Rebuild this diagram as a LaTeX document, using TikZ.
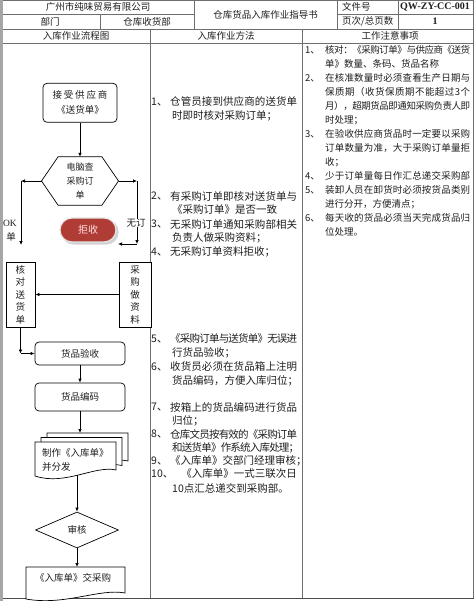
\documentclass[tikz,border=0pt]{standalone}
\usepackage{fontspec}
\setmainfont{Noto Sans CJK SC}
\newfontfamily\serifL{Liberation Serif}
\usetikzlibrary{arrows.meta,shapes.geometric,calc}
\definecolor{tline}{RGB}{110,110,110}
\definecolor{txt}{RGB}{30,30,30}
\definecolor{jured}{RGB}{176,60,54}
\def\spreadchars#1#2\endspread{#1\ifx\relax#2\relax\else\hskip 0pt plus 1fil minus 1fil\spreadchars#2\endspread\fi}
\newcommand\jc[1]{\hbox to 127pt{\spreadchars#1\endspread}}
\newcommand\jt[1]{\hbox to 145pt{\spreadchars#1\endspread}}
\begin{document}
\begin{tikzpicture}[x=1pt,y=-1pt,
  every node/.style={inner sep=0pt, text=txt},
  tl/.style={draw=tline, line width=0.8pt},
  fl/.style={draw=black, line width=0.7pt},
  arr/.style={draw=black, line width=0.7pt, -{Latex[length=4pt,width=3.5pt]}},
  hd/.style={font=\fontsize{9.5}{11}\selectfont},
  ctwo/.style={font=\fontsize{10.5}{12}\selectfont, anchor=west},
  cthree/.style={font=\fontsize{9.5}{11}\selectfont, anchor=west},
  rbox/.style={draw=black, line width=0.7pt, fill=white, rounded corners=4pt, font=\fontsize{9.5}{11}\selectfont},
  vbox/.style={draw=black, line width=0.7pt, fill=white, minimum width=29pt, minimum height=65pt, align=center, font=\fontsize{9.5}{12.5}\selectfont},
  docshape/.style={draw=black, line width=0.7pt, fill=white}
]
\useasboundingbox (0,0) rectangle (474,602);
\fill[white] (0,0) rectangle (474,602);

% table
\draw[tl] (0,0.5) -- (473,0.5);
\draw[tl] (2,14) -- (194,14);
\draw[tl] (337,14) -- (473,14);
\draw[tl] (2,29) -- (473,29);
\draw[tl] (2,43) -- (473,43);
\draw[tl] (100,14) -- (100,29);
\draw[tl] (194,0) -- (194,29);
\draw[tl] (337,0) -- (337,29);
\draw[tl] (398,0) -- (398,29);
\draw[tl] (150,29) -- (150,598);
\draw[tl] (302,29) -- (302,598);
\draw[tl] (473,0) -- (473,598);
\draw[black!70, line width=1pt] (0,598) -- (474,598);
\draw[gray!70, line width=2.6pt] (1.3,0) -- (1.3,601);

% header
\node[hd] (co) at (98,7) {广州市纯味贸易有限公司};
\node[hd] (bm) at (50,21.5) {部门};
\node[hd] (ck) at (147,21.5) {仓库收货部};
\node[hd] (title) at (265.5,14.5) {仓库货品入库作业指导书};
\node[hd, anchor=west] (wj) at (342,7) {文件号};
\node[hd, anchor=west] (yc) at (342,21.5) {页次/总页数};
\node[font=\serifL\bfseries\fontsize{10}{12}\selectfont] (code) at (435,7) {QW-ZY-CC-001};
\node[font=\serifL\bfseries\fontsize{10}{12}\selectfont] (pg) at (435,21.5) {1};
\node[hd] (h1) at (76,36) {入库作业流程图};
\node[hd] (h2) at (226,36) {入库作业方法};
\node[hd] (h3) at (390,36) {工作注意事项};

% flowchart
\node[rbox, minimum width=74pt, minimum height=39pt, align=center, font=\fontsize{9.5}{15}\selectfont] (recv) at (80,102.8) {接\hspace{1.8pt}受\hspace{1.8pt}供\hspace{1.8pt}应\hspace{1.8pt}商\\《送货单》};
\node[font=\fontsize{9}{14}\selectfont, align=center, minimum width=76.6pt, minimum height=48pt] (hex) at (80,181) {电脑查\\采购订\\单};
\draw[fl] (hex.west) -- ($(hex.north west)+(16.6,0)$) -- ($(hex.north east)+(-16.6,0)$) -- (hex.east) -- ($(hex.south east)+(-16.6,0)$) -- ($(hex.south west)+(16.6,0)$) -- cycle;
\draw[arr] (recv.south) -- (hex.north);

\coordinate (lc) at (21,181);
\coordinate (lc2) at (21,245);
\draw[arr] (hex.west) -- (lc);
\draw[arr] (lc) -- (lc2);
\coordinate (rc) at (137,181);
\coordinate (rc2) at (137,244);
\coordinate (rc3) at (118,244);
\draw[arr] (hex.east) -- (rc);
\draw[arr] (rc) -- (rc2);
\draw[arr] (rc2) -- (rc3);

\node[rounded corners=12pt, fill=gray!35, minimum width=57pt, minimum height=25pt] (jshadow) at (90,232) {};
\node[rounded corners=12pt, fill=jured, draw=gray!20, line width=1.2pt, minimum width=56pt, minimum height=24pt, text=white!88!red, font=\fontsize{10}{12}\selectfont] (jushou) at (88,230) {拒收};

\node[font=\serifL\fontsize{9.5}{11}\selectfont] (ok) at (10,223) {OK};
\node[font=\fontsize{9.5}{11}\selectfont] (okd) at (11,237) {单};
\node[fill=white, font=\fontsize{9.5}{11}\selectfont] (wd) at (136,223) {无订};

\node[vbox] (hedui) at (20.5,294.5) {核\\对\\送\\货\\单};
\node[vbox, minimum width=32pt] (caigou) at (135,294.5) {采\\购\\做\\资\\料};
\draw[arr] (caigou.west) -- (hedui.east);

\node[rbox, minimum width=90pt, minimum height=23pt] (yanshou) at (80,353.5) {货品验收};
\coordinate (lc3) at (hedui.south |- yanshou.west);
\draw[arr] (hedui.south) -- (lc3);
\draw[arr] (lc3) -- (yanshou.west);
\node[rbox, minimum width=90pt, minimum height=28pt] (bianma) at (80,397) {货品编码};
\draw[arr] (yanshou.south) -- (bianma.north);

\foreach \dx/\dy in {12/-9, 6/-4.5, 0/0}
  \draw[docshape, shift={(\dx,\dy)}] (35,442) -- (116,442) -- (116,470) .. controls (95,465) and (65,486) .. (35,476) -- cycle;
\coordinate (mdtop) at (80,433);
\draw[arr] (bianma.south) -- (mdtop);
\node[font=\fontsize{9.5}{14}\selectfont, align=left, anchor=west] (zhizuo) at (42,460) {制作《入库单》\\并分发};

\node[draw=black, line width=0.7pt, diamond, minimum width=83pt, minimum height=36pt, fill=white, font=\fontsize{9.5}{11}\selectfont] (shenhe) at (77,530) {审核};
\coordinate (mdbot) at (77,475);
\draw[arr] (mdbot) -- (shenhe.north);

\draw[docshape] (26,567) -- (125,567) -- (125,593) .. controls (100,588) and (65,606) .. (26,599) -- cycle;
\coordinate (dtop) at (77,567);
\draw[arr] (shenhe.south) -- (dtop);
\node[anchor=west, font=\fontsize{9.5}{11}\selectfont] (jiaocai) at (35,578) {《入库单》交采购};

% column 2
\node[ctwo] (n1) at (151,102) {1、};
\node[ctwo] (t1a) at (170,102) {\jc{仓管员接到供应商的送货单}};
\node[ctwo] (t1b) at (172,116) {时即时核对采购订单；};
\node[ctwo] (n2) at (151,196) {2、};
\node[ctwo] (t2a) at (170,196) {\jc{有采购订单即核对送货单与}};
\node[ctwo] (t2b) at (172,210) {《采购订单》是否一致};
\node[ctwo] (n3) at (151,224) {3、};
\node[ctwo] (t3a) at (170,224) {\jc{无采购订单通知采购部相关}};
\node[ctwo] (t3b) at (172,238) {负责人做采购资料；};
\node[ctwo] (n4) at (151,252) {4、};
\node[ctwo] (t4a) at (170,252) {无采购订单资料拒收；};
\node[ctwo] (n5) at (151,339) {5、};
\node[ctwo] (t5a) at (170,339) {\jc{《采购订单与送货单》无误进}};
\node[ctwo] (t5b) at (172,353) {行货品验收；};
\node[ctwo] (n6) at (151,367) {6、};
\node[ctwo] (t6a) at (170,367) {\jc{收货员必须在货品箱上注明}};
\node[ctwo] (t6b) at (172,381) {货品编码，方便入库归位；};
\node[ctwo] (n7) at (151,407) {7、};
\node[ctwo] (t7a) at (170,407) {\jc{按箱上的货品编码进行货品}};
\node[ctwo] (t7b) at (172,421) {归位；};
\node[ctwo] (n8) at (151,434) {8、};
\node[ctwo] (t8a) at (170,434) {\jc{仓库文员按有效的《采购订单}};
\node[ctwo] (t8b) at (172,448) {\jc{和送货单》作系统入库处理；}};
\node[ctwo] (n9) at (151,461) {9、};
\node[ctwo] (t9a) at (170,461) {《入库单》交部门经理审核；};
\node[ctwo] (n10) at (151,474) {10、};
\node[ctwo, anchor=east] (t10a) at (297,474) {《入库单》一式三联次日};
\node[ctwo] (t10b) at (172,488) {10点汇总递交到采购部。};

% column 3
\node[cthree] (m1) at (305,50) {1、};
\node[cthree] (u1a) at (325,50) {\jt{核对：《采购订单》与供应商《送货}};
\node[cthree] (u1b) at (325,64) {单》数量、条码、货品名称};
\node[cthree] (m2) at (305,78) {2、};
\node[cthree] (u2a) at (325,78) {\jt{在核准数量时必须查看生产日期与}};
\node[cthree] (u2b) at (325,92) {\jt{保质期（收货保质期不能超过 3 个}};
\node[cthree] (u2c) at (325,106) {\jt{月），超期货品即通知采购负责人即}};
\node[cthree] (u2d) at (325,120) {时处理；};
\node[cthree] (m3) at (305,134) {3、};
\node[cthree] (u3a) at (325,134) {\jt{在验收供应商货品时一定要以采购}};
\node[cthree] (u3b) at (325,148) {\jt{订单数量为准，大于采购订单量拒}};
\node[cthree] (u3c) at (325,162) {收；};
\node[cthree] (m4) at (305,176) {4、};
\node[cthree] (u4a) at (325,176) {\jt{少于订单量每日作汇总递交采购部}};
\node[cthree] (m5) at (305,190) {5、};
\node[cthree] (u5a) at (325,190) {\jt{装卸人员在卸货时必须按货品类别}};
\node[cthree] (u5b) at (325,204) {进行分开，方便清点；};
\node[cthree] (m6) at (305,218) {6、};
\node[cthree] (u6a) at (325,218) {\jt{每天收的货品必须当天完成货品归}};
\node[cthree] (u6b) at (325,232) {位处理。};
\end{tikzpicture}
\end{document}
